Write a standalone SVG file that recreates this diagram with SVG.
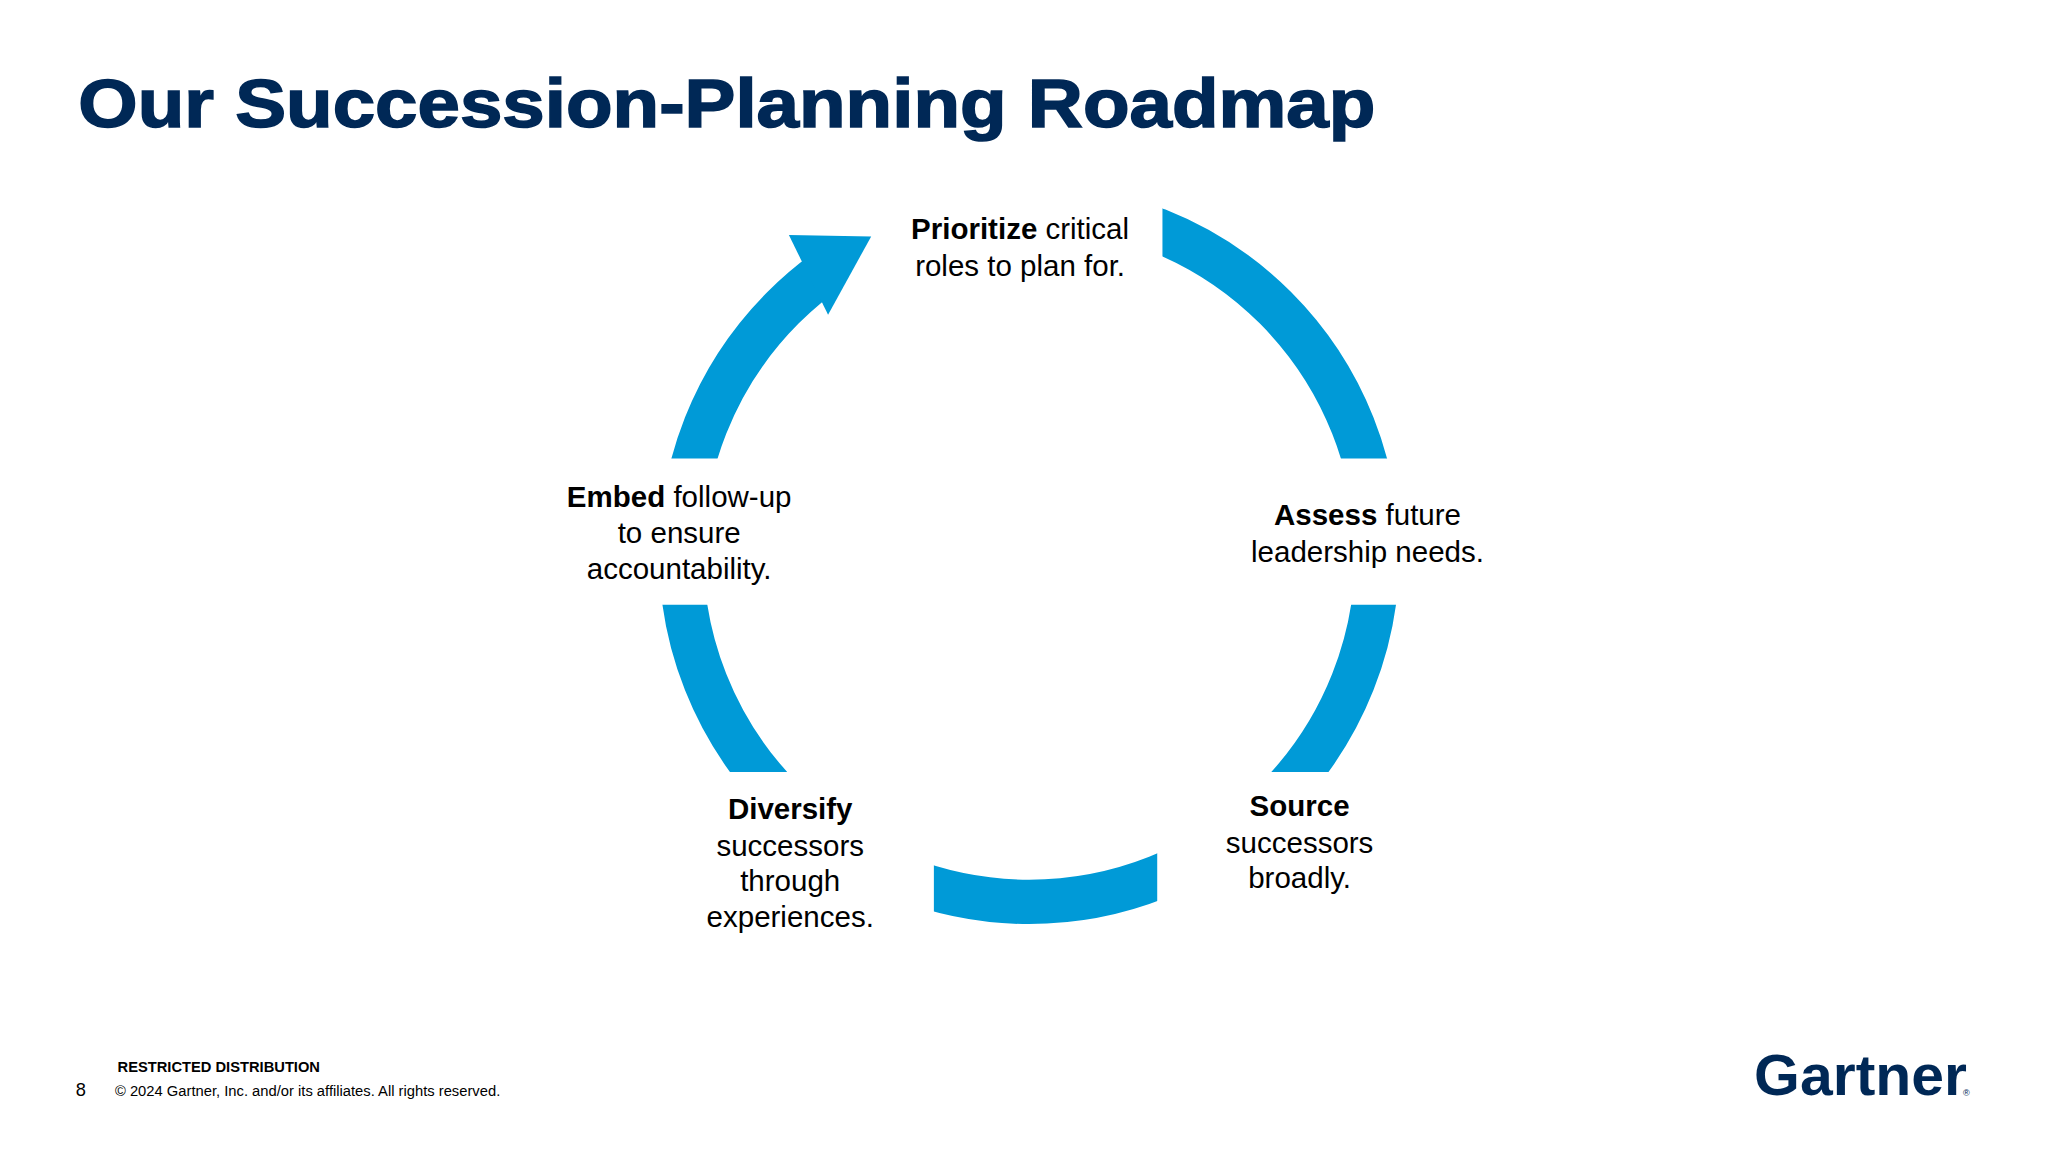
<svg xmlns="http://www.w3.org/2000/svg" width="2048" height="1152" viewBox="0 0 2048 1152">
<style>
.t{font-family:"Liberation Sans",Arial,sans-serif;font-size:22.6px;fill:#000;text-anchor:middle}
.b{font-weight:bold}
</style>
<defs>
<clipPath id="segs">
<rect x="890" y="100" width="300" height="251"/>
<rect x="900" y="463" width="300" height="128"/>
<rect x="715" y="600" width="171" height="200"/>
<rect x="400" y="463" width="300" height="128"/>
<polygon points="400,351 700,351 788,424 452,-14 400,-14"/>
</clipPath>
</defs>
<rect width="2048" height="1152" fill="#fff"/>
<g transform="scale(1.30612)">
<text x="60" y="97" font-family="'Liberation Sans',Arial,sans-serif" font-weight="900" font-size="52" fill="#002856" textLength="993" lengthAdjust="spacingAndGlyphs" stroke="#002856" stroke-width="1.2">Our Succession-Planning Roadmap</text>
<g id="connectors">
<circle cx="788" cy="424" r="266.5" fill="none" stroke="#009AD7" stroke-width="34" clip-path="url(#segs)"/>
<polygon points="604,180 667,181 634,241" fill="#009AD7"/>
</g>
<g id="prioritize"><text class="t" x="781" y="183"><tspan class="b">Prioritize</tspan> critical</text><text class="t" x="781" y="211">roles to plan for.</text></g>
<g id="assess"><text class="t" x="1047" y="402"><tspan class="b">Assess</tspan> future</text><text class="t" x="1047" y="430">leadership needs.</text></g>
<g id="source"><text class="t b" x="995" y="625">Source</text><text class="t" x="995" y="653">successors</text><text class="t" x="995" y="680">broadly.</text></g>
<g id="diversify"><text class="t b" x="605" y="627">Diversify</text><text class="t" x="605" y="655">successors</text><text class="t" x="605" y="682">through</text><text class="t" x="605" y="710">experiences.</text></g>
<g id="embed"><text class="t" x="520" y="388"><tspan class="b">Embed</tspan> follow-up</text><text class="t" x="520" y="416">to ensure</text><text class="t" x="520" y="443">accountability.</text></g>
<g id="footer" font-family="'Liberation Sans',Arial,sans-serif">
<text x="90" y="821" font-size="10.5" font-weight="bold" textLength="155" lengthAdjust="spacingAndGlyphs">RESTRICTED DISTRIBUTION</text>
<text x="58" y="839" font-size="14">8</text>
<text x="88" y="839" font-size="10.5" textLength="295" lengthAdjust="spacingAndGlyphs">© 2024 Gartner, Inc. and/or its affiliates. All rights reserved.</text>
<text x="1343" y="838" font-size="44" font-weight="bold" fill="#002856" textLength="163" lengthAdjust="spacingAndGlyphs">Gartner</text>
<text x="1503" y="839" font-size="7" fill="#002856">®</text>
</g>
</g>
</svg>
